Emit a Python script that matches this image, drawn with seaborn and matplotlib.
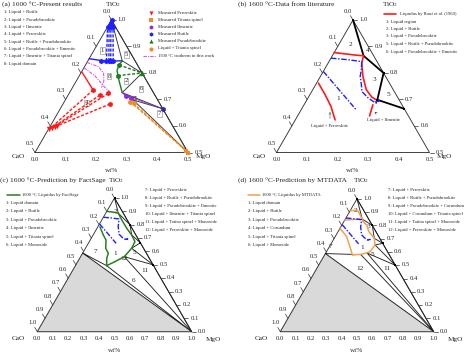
import numpy as np
import matplotlib
matplotlib.use("Agg")
import matplotlib.pyplot as plt
import seaborn as sns

sns.set_theme(style="white")
plt.rcParams['font.family'] = ['Liberation Serif', 'DejaVu Serif']
plt.rcParams['mathtext.fontset'] = 'stix'

W, H = 474, 355

# ---------------- data: compositions as (MgO, TiO2) mass fractions ----------------
# (a) present results
A_RUT_LIQ = [(0.061, 0.845), (0.069, 0.845), (0.075, 0.845), (0.083, 0.845)]
A_RUT_SOL = [(0.001, 0.972), (0.006, 0.972), (0.012, 0.972), (0.019, 0.972)]
A_RUT_MORE = [(0.043, 0.847), (0.0, 1.0), (0.003, 0.99), (0.006, 0.981)]
A_RUT_LINE = [(0.0, 0.854), (0.043, 0.847), (0.061, 0.845), (0.083, 0.845), (0.112, 0.846)]
A_PB_LIQ = [(0.110, 0.830), (0.126, 0.790)]
A_PB_SOL = [(0.2, 0.8)]
A_PB_LINE = [(0.112, 0.846), (0.110, 0.830), (0.113, 0.810), (0.126, 0.790), (0.142, 0.767), (0.172, 0.726)]
A_ILM_LIQ = [(0.190, 0.715), (0.212, 0.706)]
A_ILM_SOL = [(0.335, 0.665)]
A_ILM_LINE = [(0.172, 0.726), (0.190, 0.715), (0.219, 0.705)]
A_SP_LIQ = [(0.215, 0.692), (0.229, 0.686)]
A_SP_SOL = [(0.5, 0.5), (0.492, 0.505)]
A_PV_LIQ = [(0.072, 0.736), (0.104, 0.717), (0.128, 0.723), (0.154, 0.683)]
A_PV_SOL = [(0.003, 0.588), (0.010, 0.593), (0.016, 0.597), (0.022, 0.601)]
A_PV_LINE = [(0.0, 0.805), (0.072, 0.736)]
A_ISO_1 = [(0.0, 0.840), (0.045, 0.824), (0.074, 0.800), (0.090, 0.770), (0.095, 0.745)]
A_ISO_2 = [(0.0, 0.820), (0.050, 0.790), (0.100, 0.750), (0.135, 0.725)]
A_TIE = [[(0.0, 1.0), (0.112, 0.846), (0.2, 0.8)],
         [(0.2, 0.8), (0.172, 0.726), (0.335, 0.665)],
         [(0.335, 0.665), (0.222, 0.698), (0.5, 0.5)]]

# (b) literature (Rouf et al.) and present liquidus
B_ROUF = [[(0.0, 0.877), (0.04, 0.872), (0.07, 0.868), (0.102, 0.865)],
          [(0.102, 0.865), (0.110, 0.837), (0.139, 0.787), (0.175, 0.737), (0.207, 0.709), (0.226, 0.699)],
          [(0.225, 0.680), (0.235, 0.638)],
          [(0.006, 0.762), (0.050, 0.718), (0.091, 0.674), (0.130, 0.623)]]
B_TIE = [(0.0, 1.0), (0.102, 0.865), (0.2, 0.8), (0.23, 0.699), (0.335, 0.665)]
B_TIE_PTS = [(0.0, 1.0), (0.2, 0.8), (0.23, 0.699), (0.335, 0.665)]
WORK_1 = [(0.0, 0.856), (0.060, 0.850), (0.107, 0.843), (0.120, 0.815), (0.130, 0.787),
          (0.150, 0.755), (0.164, 0.730), (0.198, 0.705), (0.232, 0.686), (0.238, 0.695), (0.226, 0.690)]
WORK_2 = [(0.0, 0.806), (0.180, 0.661)]

# (c) FactSage
C_LIQ_TOP = [(0.0, 0.900), (0.040, 0.895), (0.082, 0.886)]
C_LIQ_RIGHT = [(0.082, 0.886), (0.130, 0.835), (0.193, 0.773), (0.250, 0.723), (0.296, 0.673),
               (0.299, 0.624), (0.283, 0.561), (0.241, 0.524), (0.202, 0.494)]
C_LIQ_LEFT = [(0.013, 0.785), (0.066, 0.723), (0.102, 0.686), (0.131, 0.624), (0.167, 0.586),
              (0.175, 0.549), (0.202, 0.494)]
C_TIE = [[(0.0, 1.0), (0.082, 0.886), (0.2, 0.8)],
         [(0.2, 0.8), (0.250, 0.723), (0.335, 0.665)],
         [(0.335, 0.665), (0.299, 0.624), (0.5, 0.5)],
         [(0.5, 0.5), (0.283, 0.561), (1.0, 0.0)],
         [(0.0, 0.588), (0.202, 0.494), (1.0, 0.0)]]
C_DOTS = [(0.0, 1.0), (0.2, 0.8), (0.335, 0.665), (0.5, 0.5)]

# (d) MTDATA
D_LIQ_TOP2 = [(0.0, 0.910), (0.045, 0.915), (0.080, 0.880), (0.110, 0.848)]
D_LIQ_TOP = [(0.0, 0.840), (0.060, 0.845), (0.110, 0.848)]
D_LIQ_RIGHT = [(0.110, 0.848), (0.123, 0.830), (0.162, 0.803), (0.201, 0.753), (0.261, 0.703),
               (0.291, 0.653), (0.284, 0.602), (0.239, 0.583), (0.181, 0.578)]
D_LIQ_LEFT = [(0.0, 0.779), (0.075, 0.715), (0.134, 0.640), (0.181, 0.578)]
D_TIE = [[(0.0, 1.0), (0.110, 0.848), (0.2, 0.8)],
         [(0.2, 0.8), (0.261, 0.703), (0.335, 0.665)],
         [(0.335, 0.665), (0.291, 0.653), (0.5, 0.5)],
         [(0.5, 0.5), (0.270, 0.592), (1.0, 0.0)],
         [(0.0, 0.588), (0.235, 0.580), (1.0, 0.0)]]
D_DOTS = [(0.0, 1.0), (0.2, 0.8), (0.335, 0.665), (0.5, 0.5)]

GRAY_AREA = [(0.0, 0.0), (0.0, 0.588), (1.0, 0.0)]

A_LEFT_LEG = ["1: Liquid + Rutile", "2: Liquid + Pseudobrookite", "3: Liquid + Ilmenite",
              "4: Liquid + Perovskite", "5: Liquid + Rutile + Pseudobrookite",
              "6: Liquid + Pseudobrookite + Ilmenite", "7: Liquid + Ilmenite + Titania spinel",
              "8: Liquid domain"]
A_RIGHT_LEG = ["Measured Perovskite", "Measured Titania spinel", "Measured Ilmenite",
               "Measured Rutile", "Measured Pseudobrookite", "Liquid + Titania spinel",
               "1500 °C isotherm in this work"]
B_LEG = ["1: Liquid region", "2: Liquid + Rutile", "3: Liquid + Pseudobrookite",
         "5: Liquid + Rutile + Pseudobrookite", "6: Liquid + Pseudobrookite + Ilmenite"]
C_LEG_L = ["1: Liquid domain", "2: Liquid + Rutile", "3: Liquid + Pseudobrookite",
           "4: Liquid + Ilmenite", "5: Liquid + Titania spinel", "6: Liquid + Monoxide"]
C_LEG_R = ["7: Liquid + Perovskite", "8: Liquid + Rutile + Pseudobrookite",
           "9: Liquid + Pseudobrookite + Ilmenite", "10: Liquid + Ilmenite + Titania spinel",
           "11: Liquid + Tatina spinel + Monoxide", "12: Liquid + Perovskite + Monoxide"]
D_LEG_L = ["1: Liquid domain", "2: Liquid + Rutile", "3: Liquid + Pseudobrookite",
           "4: Liquid + Corundum", "5: Liquid + Titania spinel", "6: Liquid + Monoxide"]
D_LEG_R = ["7: Liquid + Perovskite", "8: Liquid + Rutile + Pseudobrookite",
           "9: Liquid + Pseudobrookite + Corundum", "10: Liquid + Corundum + Titania spinel",
           "11: Liquid + Tatina spinel + Monoxide", "12: Liquid + Perovskite + Monoxide"]

RED, BLUE, GREEN, PURPLE, ORANGE, MAG = "#ff1a1a", "#1f1fff", "#1e7b1e", "#8a2be2", "#f08c28", "#e650e6"
FS_GREEN, MT_ORANGE = "#2a7d1f", "#f0a050"

fig = plt.figure(figsize=(W / 100, H / 100), dpi=100)
ov = fig.add_axes([0, 0, 1, 1])
ov.set_xlim(0, W)
ov.set_ylim(H, 0)
ov.axis('off')


def tern(pts, sc):
    p = np.asarray(pts, float)
    a = (p[:, 1] - (1 - sc)) / sc
    r = p[:, 0] / sc
    return r + 0.5 * a, a * np.sqrt(3) / 2


def line(ax, pts, sc, **kw):
    x, y = tern(pts, sc)
    sns.lineplot(x=x, y=y, sort=False, estimator=None, ax=ax, **kw)


def dots(ax, pts, sc, **kw):
    x, y = tern(pts, sc)
    sns.scatterplot(x=x, y=y, ax=ax, **kw)


def panel(box, origin, width, sc, tick_fs=4.8):
    x0, y0, bw, bh = box
    ax = fig.add_axes([x0 / W, 1 - (y0 + bh) / H, bw / W, bh / H])
    ax.axis('off')
    ox, oy = origin
    lims = ((x0 - ox) / width, (x0 + bw - ox) / width, (oy - (y0 + bh)) / width, (oy - y0) / width)
    lo = 1 - sc
    line(ax, [(0, lo), (sc, lo), (0, 1.0), (0, lo)], sc, color="#333333", lw=0.65)
    k = 1.0 / width
    vals = np.round(np.arange(0, sc + 1e-9, 0.1), 1)
    # left axis (CaO)
    x, y = tern([(0, 1 - v) for v in vals], sc)
    for xi, yi, v in zip(x, y, vals):
        ax.plot([xi, xi - 2.5 * k], [yi, yi + 4.3 * k], color="#333333", lw=0.5)
        ax.text(xi - 5 * k, yi + 8.7 * k, f"{v:.1f}", fontsize=tick_fs, ha='center', va='center')
    # right axis (TiO2)
    tv = np.round(1 - vals, 1)
    x, y = tern([(1 - v, v) for v in tv], sc)
    for xi, yi, v in zip(x, y, tv):
        ax.plot([xi, xi + 4 * k], [yi, yi], color="#333333", lw=0.5)
        ax.text(xi + 10.5 * k, yi + 0.3 * k, f"{v:.1f}", fontsize=tick_fs, ha='center', va='center')
    # bottom axis (MgO)
    x, y = tern([(v, lo) for v in vals], sc)
    for xi, yi, v in zip(x, y, vals):
        ax.text(xi, yi - 7 * k, f"{v:.1f}", fontsize=tick_fs, ha='center', va='center')
    return ax, lims


def finish(ax, lims):
    ax.set_xlim(lims[0], lims[1])
    ax.set_ylim(lims[2], lims[3])


def ftext(x, y, t, fs=3.3, **kw):
    kw.setdefault('va', 'center')
    ov.text(x, y, t, fontsize=fs, **kw)


def names(ox, oy, width, cdx, mdx, dy):
    ftext(ox + cdx, oy + dy, "CaO", fs=5.2, ha='center')
    ftext(ox + width + mdx, oy + dy, "MgO", fs=5.2, ha='center')
    ftext(ox + width / 2, oy + 18.5, "wt%", fs=5.2, ha='center')


def box_num(x, y, t):
    ftext(x, y, t, fs=4.8, ha='center',
          bbox=dict(boxstyle='square,pad=0.12', fc='white', ec='#9a9a9a', lw=0.5))


DASH = (0, (2.2, 1.2))
DASHDOT = (0, (4, 1.2, 1, 1.2))
MS = 15
TFS = 5.3

# ================= (a) =================
sc = 0.5
ax, lims = panel((0, 0, 237, 177), (35, 152.5), 153, sc)
for tri in A_TIE:
    line(ax, tri + [tri[0]], sc, color="#333333", lw=0.65)
for a_, b_ in zip(A_RUT_LIQ, A_RUT_SOL):
    line(ax, [a_, b_], sc, color=BLUE, lw=1.0, linestyle=DASH)
for a_ in A_PB_LIQ:
    line(ax, [a_, A_PB_SOL[0]], sc, color=GREEN, lw=1.0, linestyle=DASH)
for a_ in A_ILM_LIQ:
    line(ax, [a_, A_ILM_SOL[0]], sc, color=PURPLE, lw=0.5, linestyle=DASH)
for i, a_ in enumerate(A_SP_LIQ):
    line(ax, [a_, A_SP_SOL[i]], sc, color=ORANGE, lw=1.0, linestyle=DASH)
for a_, b_ in zip(A_PV_LIQ, A_PV_SOL):
    line(ax, [a_, b_], sc, color=RED, lw=1.0, linestyle=DASH)
line(ax, A_RUT_LINE, sc, color=BLUE, lw=1.0)
line(ax, A_PB_LINE, sc, color=GREEN, lw=1.0)
line(ax, A_ILM_LINE, sc, color=PURPLE, lw=1.0)
line(ax, A_PV_LINE, sc, color=RED, lw=1.0)
line(ax, A_ISO_1, sc, color=MAG, lw=0.8, linestyle=(0, (3, 1, 1, 1)))
line(ax, A_ISO_2, sc, color=MAG, lw=0.8, linestyle=(0, (3, 1, 1, 1)))
dots(ax, A_RUT_LIQ + A_RUT_SOL + A_RUT_MORE, sc, marker='h', color=BLUE, s=MS, linewidth=0, zorder=5)
dots(ax, A_PB_LIQ, sc, marker='h', color=GREEN, s=MS, linewidth=0, zorder=5)
dots(ax, A_PB_SOL, sc, marker='^', color=GREEN, s=MS, linewidth=0, zorder=5)
dots(ax, A_ILM_LIQ, sc, marker='h', color=PURPLE, s=MS, linewidth=0, zorder=5)
dots(ax, A_ILM_SOL, sc, marker='h', color="#3a2aa0", s=MS, linewidth=0, zorder=5)
dots(ax, A_SP_LIQ, sc, marker='h', color=ORANGE, s=MS, linewidth=0, zorder=5)
dots(ax, A_SP_SOL, sc, marker='s', color=ORANGE, s=10, linewidth=0, zorder=5)
dots(ax, A_PV_LIQ, sc, marker='h', color=RED, s=MS, linewidth=0, zorder=5)
dots(ax, A_PV_SOL, sc, marker='v', color=RED, s=MS, linewidth=0, zorder=5)
finish(ax, lims)

ftext(2, 4.5, "(a) 1600 °C-Present results", fs=TFS)
ftext(105, 4.5, "TiO$_2$", fs=TFS)
for i, t in enumerate(A_LEFT_LEG):
    ftext(4, 12.5 + i * 7.3, t)
leg_mk = [('v', RED), ('s', ORANGE), ('h', PURPLE), ('h', BLUE), ('^', GREEN), ('o', ORANGE)]
for i, t in enumerate(A_RIGHT_LEG):
    yy = 12.5 + i * 7.2
    if i < 6:
        ov.plot([151.5], [yy], marker=leg_mk[i][0], color=leg_mk[i][1], ms=3, mew=0)
    else:
        ov.plot([143, 156], [yy, yy], color=MAG, lw=0.8, linestyle=(0, (3, 1, 1, 1)))
    ftext(158, yy, t)
for x_, y_, t in [(102.3, 50.3, "1"), (126.7, 54.7, "5"), (109, 76, "8"), (126, 81, "2"),
                  (141, 89, "6"), (86.7, 103, "4"), (134, 99, "3"), (159.3, 113.3, "7")]:
    box_num(x_, y_, t)
names(35, 152.5, 153, -16.7, 15.3, 4)

# ================= (b) =================
ax, lims = panel((237, 0, 237, 177), (276.5, 152.5), 153, sc)
line(ax, B_TIE, sc, color="black", lw=1.3)
dots(ax, B_TIE_PTS, sc, marker='s', color="black", s=4, linewidth=0, zorder=5)
for seg in B_ROUF:
    line(ax, seg, sc, color=RED, lw=1.2)
line(ax, WORK_1, sc, color=BLUE, lw=1.0, linestyle=DASHDOT)
line(ax, WORK_2, sc, color=BLUE, lw=1.0, linestyle=DASHDOT)
finish(ax, lims)

ftext(238.5, 4.5, "(b) 1600 °C-Data from literature", fs=TFS)
ftext(382, 4.5, "TiO$_2$", fs=TFS)
ov.plot([384, 396], [14.3, 14.3], color=RED, lw=1.2)
ftext(400, 14.3, "Liquidus by Rouf et al. (1969)")
for i, t in enumerate(B_LEG):
    ftext(386, 21.5 + i * 7.5, t)
for x_, y_, t in [(350, 44.3, "2"), (367.3, 50.7, "4"), (374, 79.3, "3"), (388.3, 95, "5"), (338.3, 98.3, "1")]:
    ftext(x_, y_, t, fs=5.2, ha='center')
ov.annotate("Liquid + Perovskite", xy=(330, 109), xytext=(330, 126.5), fontsize=3.3, ha='center', va='center',
            arrowprops=dict(arrowstyle='->', color='#3a8a8a', lw=0.5))
ov.annotate("Liquid + Ilmenite", xy=(372.5, 110), xytext=(384, 120), fontsize=3.3, ha='center', va='center',
            arrowprops=dict(arrowstyle='->', color='#444444', lw=0.5))
names(276.5, 152.5, 153, -16.7, 15.3, 4)

# ================= (c) =================
sc = 1.0
ax, lims = panel((0, 177, 237, 178), (37.3, 331.7), 154.4, sc)
x, y = tern(GRAY_AREA, sc)
ax.fill(x, y, color="#d9d9d9", zorder=0)
for tri in C_TIE:
    line(ax, tri + [tri[0]], sc, color="#222222", lw=0.65)
dots(ax, C_DOTS, sc, marker='s', color="black", s=4, linewidth=0, zorder=5)
for seg in (C_LIQ_TOP, C_LIQ_RIGHT, C_LIQ_LEFT):
    line(ax, seg, sc, color=FS_GREEN, lw=1.1)
line(ax, WORK_1, sc, color=BLUE, lw=1.0, linestyle=DASHDOT)
line(ax, WORK_2, sc, color=BLUE, lw=1.0, linestyle=DASHDOT)
finish(ax, lims)

ftext(0, 180.5, "(c) 1600 °C-Prediction by FactSage", fs=TFS)
ftext(108.5, 180.5, "TiO$_2$", fs=TFS)
ov.plot([7, 20], [195, 195], color=FS_GREEN, lw=1.1)
ftext(22, 195, "1600 °C Liquidus by FactSage")
for i, t in enumerate(C_LEG_L):
    ftext(6.5, 203 + i * 8.4, t)
for i, t in enumerate(C_LEG_R):
    ftext(145.5, 189.5 + i * 8.2, t)
for x_, y_, t in [(115.7, 211.7, "2"), (95.5, 251.7, "7"), (115, 253.3, "1"), (134.3, 252.3, "5"),
                  (124, 258.5, "12"), (145, 270, "11"), (133.3, 281, "6")]:
    ftext(x_, y_, t, fs=5.2, ha='center')
ftext(100, 305, "Unaffected area", fs=5.4, ha='center', fontweight='bold', fontstyle='italic')
names(37.3, 331.7, 154.4, -19, 21.6, 7.3)

# ================= (d) =================
ax, lims = panel((237, 177, 237, 178), (280.3, 331.7), 153.4, sc)
x, y = tern(GRAY_AREA, sc)
ax.fill(x, y, color="#d9d9d9", zorder=0)
for tri in D_TIE:
    line(ax, tri + [tri[0]], sc, color="#222222", lw=0.65)
dots(ax, D_DOTS, sc, marker='s', color="black", s=4, linewidth=0, zorder=5)
for seg in (D_LIQ_TOP2, D_LIQ_TOP, D_LIQ_RIGHT, D_LIQ_LEFT):
    line(ax, seg, sc, color=MT_ORANGE, lw=1.1)
line(ax, WORK_1, sc, color=BLUE, lw=1.0, linestyle=DASHDOT)
line(ax, WORK_2, sc, color=BLUE, lw=1.0, linestyle=DASHDOT)
finish(ax, lims)

ftext(238.5, 180.5, "(d) 1600 °C-Prediction by MTDATA", fs=TFS)
ftext(353, 180.5, "TiO$_2$", fs=TFS)
ov.plot([248, 260], [195, 195], color=MT_ORANGE, lw=1.1)
ftext(262, 195, "1600 °C Liquidus by MTDATA")
for i, t in enumerate(D_LEG_L):
    ftext(248, 203 + i * 8.4, t)
for i, t in enumerate(D_LEG_R):
    ftext(388, 189.5 + i * 8.2, t)
for x_, y_, t in [(355.3, 210, "2"), (368.7, 226.7, "3"), (362, 247.7, "1"), (372, 254.3, "5"),
                  (330.3, 246.7, "7"), (360.3, 268.3, "12"), (387, 269, "11")]:
    ftext(x_, y_, t, fs=5.2, ha='center')
ftext(340, 308.3, "Unconcerned area", fs=5.4, ha='center', fontweight='bold', fontstyle='italic')
names(280.3, 331.7, 153.4, -19, 21.6, 7.3)

fig.savefig("out.png", dpi=100)
